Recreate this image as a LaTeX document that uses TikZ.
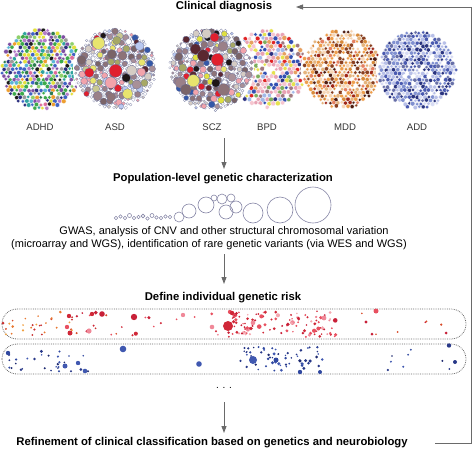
\documentclass[tikz,border=0pt]{standalone}
\usepackage{fontspec}
\setmainfont{Liberation Sans}
\usetikzlibrary{arrows.meta}
% ADHD
\definecolor{hA}{HTML}{3DAA4A}\definecolor{hB}{HTML}{2E7D4F}\definecolor{hC}{HTML}{2FA39E}
\definecolor{hD}{HTML}{3F63C4}\definecolor{hE}{HTML}{2B2F7F}\definecolor{hF}{HTML}{7E4FA3}
\definecolor{hG}{HTML}{B57CC9}\definecolor{hH}{HTML}{E3E13C}\definecolor{hI}{HTML}{EE9F2F}
\definecolor{hJ}{HTML}{8FD06B}\definecolor{hK}{HTML}{FFFFFF}\definecolor{hL}{HTML}{9C9C9C}
\definecolor{hM}{HTML}{DF6D9B}\definecolor{hN}{HTML}{1A1A1A}\definecolor{hO}{HTML}{5AB5D8}
% ASD / SCZ
\definecolor{sA}{HTML}{8D7378}\definecolor{sB}{HTML}{7A6468}\definecolor{sC}{HTML}{F2A3AB}
\definecolor{sD}{HTML}{E0202E}\definecolor{sE}{HTML}{A6A866}\definecolor{sF}{HTML}{C9C891}
\definecolor{sG}{HTML}{E8E46E}\definecolor{sH}{HTML}{3458A8}\definecolor{sI}{HTML}{5A2830}
\definecolor{sJ}{HTML}{D5CCC4}\definecolor{sK}{HTML}{FFFFFF}\definecolor{sL}{HTML}{B9C8F0}
\definecolor{sM}{HTML}{1E1616}\definecolor{sN}{HTML}{A89098}\definecolor{sO}{HTML}{E0E040}
\definecolor{sP}{HTML}{9A8088}
\definecolor{outl}{HTML}{6A7098}
% BPD
\definecolor{bA}{HTML}{E8A2B4}\definecolor{bB}{HTML}{E6E24E}\definecolor{bC}{HTML}{3350B2}
\definecolor{bD}{HTML}{A3B9E8}\definecolor{bE}{HTML}{E02424}\definecolor{bF}{HTML}{7FAE5E}
\definecolor{bG}{HTML}{A07880}\definecolor{bH}{HTML}{E7A061}\definecolor{bI}{HTML}{2A3080}
\definecolor{bJ}{HTML}{F6C6D0}
% MDD
\definecolor{mA}{HTML}{EE9E4C}\definecolor{mB}{HTML}{E5B47D}\definecolor{mC}{HTML}{F7D6B5}
\definecolor{mD}{HTML}{8A4020}\definecolor{mE}{HTML}{4E1C10}\definecolor{mF}{HTML}{E48060}
\definecolor{mG}{HTML}{A02818}\definecolor{mH}{HTML}{D88A3A}
% ADD
\definecolor{aA}{HTML}{2A3480}\definecolor{aB}{HTML}{4A5AB0}\definecolor{aC}{HTML}{8090D0}
\definecolor{aD}{HTML}{B8C0E8}\definecolor{aE}{HTML}{D8DCF4}\definecolor{aF}{HTML}{6870A8}
% bars
\definecolor{rA}{HTML}{E87830}\definecolor{rB}{HTML}{F0A040}\definecolor{rC}{HTML}{D84A28}
\definecolor{rD}{HTML}{C83030}\definecolor{rE}{HTML}{D02838}\definecolor{rF}{HTML}{E85060}
\definecolor{rG}{HTML}{F08898}\definecolor{rH}{HTML}{C82038}\definecolor{rI}{HTML}{F4A8B0}
\definecolor{uA}{HTML}{283888}\definecolor{uB}{HTML}{3048A0}\definecolor{uC}{HTML}{1E2A70}
\definecolor{uD}{HTML}{4058B0}
\definecolor{lineg}{HTML}{6A6A6A}
\definecolor{popc}{HTML}{8686A6}
\definecolor{labc}{HTML}{333333}

\def\palH{{"hA","hA","hB","hC","hD","hD","hE","hF","hF","hG","hH","hH","hI","hJ","hK","hK","hL","hM","hN","hO"}}
\def\palFill{{"sK","sK","sK","sK","sK","sL","sJ","sC","sN"}}
\def\palS{{"sA","sA","sA","sA","sP","sP","sB","sB","sC","sC","sD","sE","sE","sF","sG","sH","sI","sJ","sJ","sK","sL","sN","sN","sM"}}
\def\palZ{{"sA","sA","sA","sP","sB","sB","sC","sC","sD","sD","sE","sG","sO","sO","sH","sI","sJ","sJ","sK","sN","sN","sM"}}
\def\palB{{"bA","bA","bA","bB","bB","bC","bC","bD","bE","bF","sK","sK","bG","bH","bI","bJ","bJ"}}
\def\palM{{"mA","mA","mA","mB","mB","mC","mC","mD","mD","mE","sK","mF","mG","mH","mH"}}
\def\palA{{"aA","aA","aB","aB","aB","aC","aC","aC","aC","aD","aD","aD","aE","sK","aF","aF"}}
\def\palRo{{"rA","rB","rC","rD","rA"}}
\def\palRr{{"rC","rD","rE","rH","rF"}}
\def\palRp{{"rE","rF","rG","rH","rI","rE","rF"}}
\def\palU{{"uA","uB","uC","uD","uA"}}

\newcommand{\hexdisk}[8]{%
 \pgfmathtruncatemacro{\hdN}{#3/#4+1}%
 \pgfmathtruncatemacro{\hdM}{#3/(#4*0.866)+1}%
 \pgfmathtruncatemacro{\hdK}{dim(#8)-1}%
 \foreach \j in {-\hdM,...,\hdM}{%
  \foreach \i in {-\hdN,...,\hdN}{%
   \pgfmathsetmacro{\hdr}{#4*0.5*(#5+(#6-#5)*rnd)}%
   \pgfmathsetmacro{\hdjit}{max(0,#4-2*\hdr)+0.25*#4}%
   \pgfmathsetmacro{\hdx}{\i*#4+mod(abs(\j),2)*#4*0.5+(rnd-0.5)*\hdjit}%
   \pgfmathsetmacro{\hdy}{\j*#4*0.866+(rnd-0.5)*\hdjit}%
   \pgfmathtruncatemacro{\hdok}{((veclen(\hdx,\hdy)+\hdr)<#3)&&(rnd<#7)}%
   \ifnum\hdok=1
     \pgfmathtruncatemacro{\hdk}{random(0,\hdK)}%
     \pgfmathsetmacro{\hdc}{#8[\hdk]}%
     \fill[fill=\hdc,hd] ({#1+\hdx},{#2+\hdy}) circle[radius=\hdr pt];%
   \fi
  }}}

\newcommand{\scat}[8]{%
 \pgfmathtruncatemacro{\scK}{dim(#8)-1}%
 \foreach \q in {1,...,#5}{%
   \pgfmathsetmacro{\sx}{#1+(#2-#1)*rnd}%
   \pgfmathsetmacro{\sy}{#3+(#4-#3)*rnd}%
   \pgfmathsetmacro{\sr}{#6+(#7-#6)*rnd*rnd}%
   \pgfmathtruncatemacro{\sk}{random(0,\scK)}%
   \pgfmathsetmacro{\sc}{#8[\sk]}%
   \fill[\sc] (\sx,\sy) circle[radius=\sr pt];}}

\tikzset{
  hd/.style={draw=white,line width=0.25pt},
  ttl/.style={font=\fontsize{11.3}{13}\selectfont\bfseries,inner sep=1pt},
  lab/.style={font=\fontsize{9.6}{11}\selectfont,text=labc,inner sep=1pt},
  body/.style={font=\fontsize{11}{13}\selectfont,inner sep=1pt},
  arr/.style={draw=lineg,line width=0.9pt,-{Triangle[length=7pt,width=5pt]}},
  bar/.style={draw=lineg,densely dotted,line width=0.8pt,rounded corners=15pt},
  pc/.style={draw=popc,line width=0.6pt},
}

\begin{document}
\begin{tikzpicture}[x=1pt,y=-1pt]
\useasboundingbox (0,0) rectangle (474,450);
\pgfmathsetseed{4711}

% ---- clinical diagnosis disks ----
% ADHD
\fill[white] (41,69) circle[radius=42pt];
\tikzset{hd/.style={draw=white,line width=0.2pt}}
\hexdisk{41}{69}{42}{4.1}{0.9}{1.15}{1}{\palH}
% ASD
\fill[white] (115,69) circle[radius=42pt];
\tikzset{hd/.style={draw=outl!80!white,line width=0.25pt}}
\hexdisk{115}{69}{42}{4.0}{0.6}{1.0}{1}{\palFill}
\tikzset{hd/.style={draw=outl,line width=0.25pt}}
\hexdisk{115}{69}{41}{7.5}{0.65}{1.0}{0.92}{\palS}
\hexdisk{115}{69}{40}{14}{0.6}{0.95}{0.55}{\palS}
% BPD
\fill[white] (267,69) circle[radius=41pt];
\tikzset{hd/.style={draw=white,line width=0.2pt}}
\hexdisk{267}{69}{41}{4.4}{0.85}{1.15}{1}{\palB}
% SCZ
\fill[white] (211,69) circle[radius=43pt];
\tikzset{hd/.style={draw=outl!80!white,line width=0.25pt}}
\hexdisk{211}{69}{43}{4.0}{0.6}{1.0}{1}{\palFill}
\tikzset{hd/.style={draw=outl,line width=0.25pt}}
\hexdisk{211}{69}{42}{7}{0.65}{1.0}{0.92}{\palZ}
\hexdisk{211}{69}{41}{13}{0.6}{0.95}{0.5}{\palZ}
% MDD
\fill[white] (342,69) circle[radius=41pt];
\tikzset{hd/.style={draw=white,line width=0.2pt}}
\hexdisk{342}{69}{41}{3.9}{0.85}{1.15}{1}{\palM}
% ADD
\fill[white] (417,70) circle[radius=41pt];
\hexdisk{417}{70}{41}{3.9}{0.9}{1.2}{1}{\palA}

% labels
\node[lab] (ladhd) at (40,127) {ADHD};
\node[lab] (lasd) at (115,127) {ASD};
\node[lab] (lscz) at (212,127) {SCZ};
\node[lab] (lbpd) at (267,127) {BPD};
\node[lab] (lmdd) at (345,127) {MDD};
\node[lab] (ladd) at (417,127) {ADD};

% titles
\node[ttl] (clin) at (224,7) {Clinical diagnosis};
\node[ttl] (pop) at (223,179) {Population-level genetic characterization};
\node[body] (gwas1) at (224,232) {GWAS, analysis of CNV and other structural chromosomal variation};
\node[body] (gwas2) at (209,245) {(microarray and WGS), identification of rare genetic variants (via WES and WGS)};
\node[ttl] (risk) at (223,298) {Define individual genetic risk};
\node[font=\fontsize{10}{12}\selectfont,inner sep=1pt] (dots) at (224,388) {. . .};
\node[ttl] (refine) at (212,443) {Refinement of clinical classification based on genetics and neurobiology};

% arrows
\coordinate (a1s) at (224,138);
\coordinate (a1e) at (224,169);
\coordinate (a2s) at (224,254);
\coordinate (a2e) at (224,284);
\coordinate (a3s) at (224,402);
\coordinate (a3e) at (224,433);
\draw[arr] (a1s) -- (a1e);
\draw[arr] (a2s) -- (a2e);
\draw[arr] (a3s) -- (a3e);

% feedback line
\coordinate (fb1) at (435,443);
\coordinate (fb2) at (471,443);
\coordinate (fb3) at (471,7);
\coordinate (fbe) at (296,7);
\draw[draw=lineg,line width=0.8pt,-{Triangle[length=7pt,width=5pt]}] (fb1) -- (fb2) -- (fb3) -- (fbe);

% population-level circles
\foreach \x/\y/\r in {116/218/1.8,120.5/216.5/1.8,125/218/1.8,129.5/215.5/2,134/218/1.8,138.5/217/1.8,143/216/1.9,147.5/218.5/1.8,152/215.5/2,156.5/217.5/1.8,161/218/1.8,165.5/216.5/1.8,170/217/1.8}
  \draw[pc] (\x,\y) circle[radius=\r pt];
\foreach \x/\y/\r in {179/217/5,189/211/7,206/205/8,214/198/3,222/199/5,231/198/4,226/212/7,236/207/6,253/213/10,280/210/13,313/205/18}
  \draw[pc] (\x,\y) circle[radius=\r pt];

% ---- risk bars ----
\draw[bar] (2,309) rectangle (466,339);
\draw[bar] (2,344) rectangle (466,374);
% red bar
\scat{5}{45}{318}{335}{14}{0.9}{1.6}{\palRo}
\scat{30}{75}{312}{336}{14}{0.9}{1.8}{\palRo}
\scat{60}{120}{312}{336}{14}{0.9}{2.2}{\palRr}
\scat{120}{222}{312}{336}{12}{0.9}{2.2}{\palRp}
\scat{226}{336}{311}{337}{110}{0.8}{2.6}{\palRp}
\scat{336}{455}{312}{336}{6}{0.9}{1.4}{\palRr}
\foreach \x/\y/\r/\c in {3/323/1.5/rD,102/314/2.8/rH,92/314/2.2/rE,69/316/2.2/rE,70/333/2.5/rE,67/327/2.2/rF,89/331/2.6/rG,134/317/3.2/rH,183/315/2.2/rG,212/327/2.3/rG,228/326/5/rE,232/313/2.2/rE,376/311/2.5/rF,366/322/1.7/rH,372/334/1.5/rH,446/333/1.5/rH,324/318/2.4/rG}
  \fill[\c] (\x,\y) circle[radius=\r pt];
% blue bar
\scat{6}{40}{348}{371}{10}{0.9}{1.6}{\palU}
\scat{40}{90}{347}{372}{20}{0.9}{2.0}{\palU}
\scat{240}{325}{347}{372}{60}{0.8}{2.2}{\palU}
\scat{385}{450}{349}{370}{8}{0.9}{1.3}{\palU}
\foreach \x/\y/\r/\c in {8/353/2.2/uB,123/349/3.3/uD,199/364/2.8/uD,253/360/4/uD,276/360/2.5/uB,65/366/2.5/uD,78/363/2.2/uD,85/371/2.3/uD,449/345.5/2.2/uA,455/362/2/uA,300/372/2.2/uB,320/372/2/uB}
  \fill[\c] (\x,\y) circle[radius=\r pt];
\end{tikzpicture}
\end{document}
